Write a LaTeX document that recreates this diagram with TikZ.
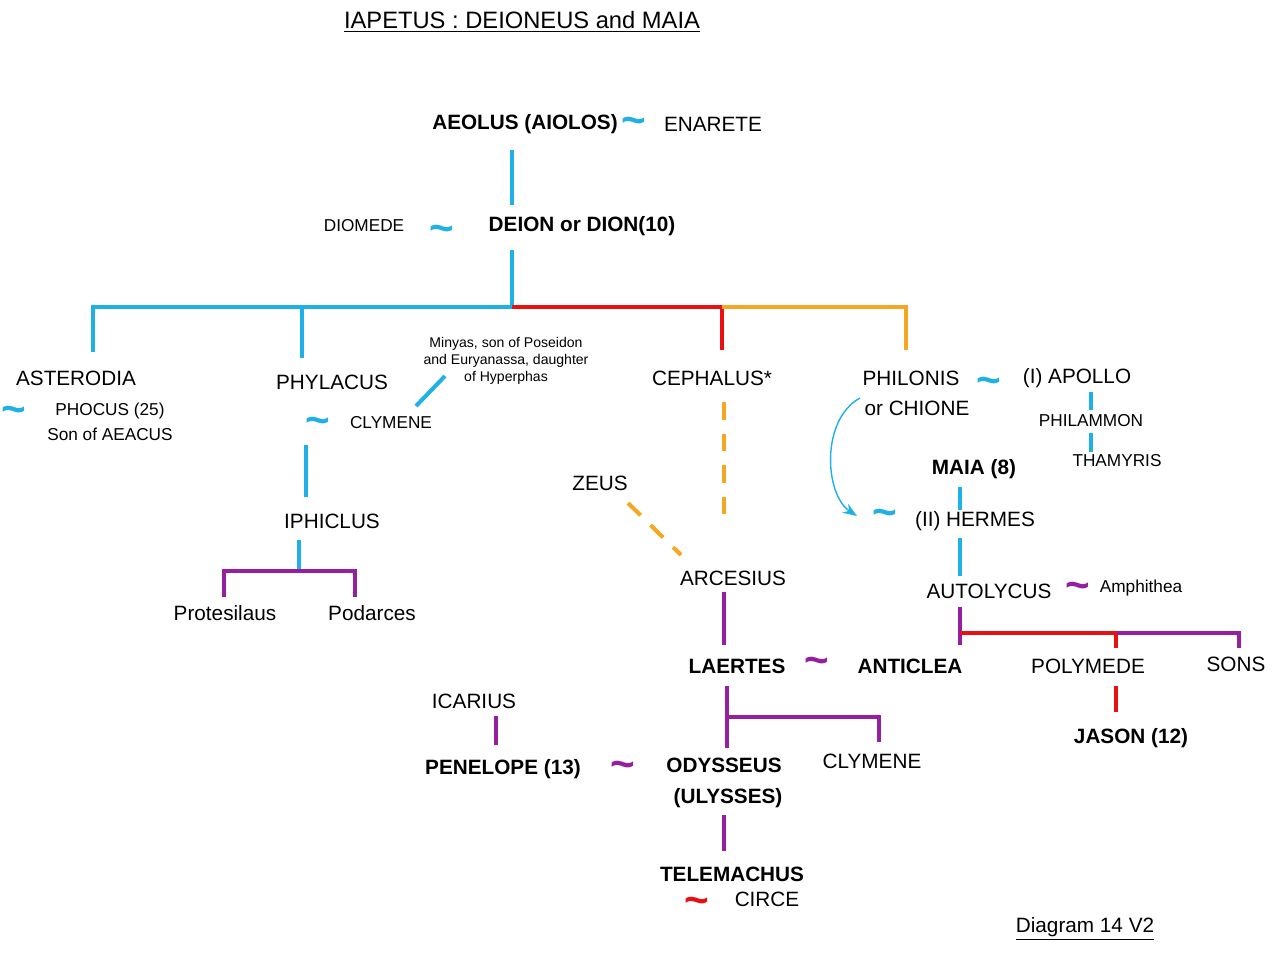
\documentclass[tikz,border=0pt]{standalone}
\usepackage{fontspec}
\setmainfont{Liberation Sans}
\usetikzlibrary{arrows.meta}
\definecolor{cy}{RGB}{30,176,230}
\definecolor{rd}{RGB}{232,16,16}
\definecolor{og}{RGB}{245,166,35}
\definecolor{pu}{RGB}{150,30,160}
\tikzset{
  nm/.style={font=\fontsize{11.8}{14}\selectfont, inner sep=1pt},
  bd/.style={font=\fontsize{11.8}{14}\selectfont\bfseries, inner sep=1pt},
  sm/.style={font=\fontsize{9.8}{12}\selectfont, inner sep=1pt},
  tn/.style={font=\fontsize{8}{9.5}\selectfont, inner sep=1pt, align=center},
  tld/.style={font=\fontsize{24}{24}\selectfont\bfseries, inner sep=0pt, text=#1},
  ln/.style={line width=2.3pt, draw=#1},
  dl/.style={line width=2.3pt, draw=#1, dash pattern=on 10pt off 8pt}
}
\begin{document}
\begin{tikzpicture}[x=0.02cm,y=-0.02cm]
\useasboundingbox (0,0) rectangle (1280,953);
% title and footer
\node[font=\fontsize{13.5}{16}\selectfont] (title) at (522,22) {\underline{IAPETUS : DEIONEUS and MAIA}};
\node[nm] (foot) at (1085,929) {\underline{Diagram 14 V2}};
% top generations
\node[bd] (aeolus) at (525,124) {AEOLUS (AIOLOS)};
\node[tld=cy] (t1) at (634,126) {\textasciitilde};
\node[nm] (enarete) at (713,124) {ENARETE};
\node[sm] (diomede) at (364,226) {DIOMEDE};
\node[tld=cy] (t2) at (442,234) {\textasciitilde};
\node[bd] (deion) at (582,226) {DEION or DION(10)};
\draw[ln=cy] (512,150) -- (512,205);
\draw[ln=cy] (512,250) -- (512,307);
\draw[ln=cy] (93,352) -- (93,307) -- (512,307);
\draw[ln=cy] (302,358) -- (302,307);
\draw[ln=rd] (512,307) -- (722,307) -- (722,350);
\draw[ln=og] (722,307) -- (906,307) -- (906,350);
% left branches
\node[nm] (asterodia) at (76,378) {ASTERODIA};
\node[tld=cy] (t3) at (14,415) {\textasciitilde};
\node[sm] (phocus) at (110,411) {PHOCUS (25)};
\node[sm] (son) at (110,434) {Son of AEACUS};
\node[nm] (phylacus) at (332,382) {PHYLACUS};
\node[tld=cy] (t4) at (318,426) {\textasciitilde};
\node[sm] (clymene1) at (391,423) {CLYMENE};
\node[tn] (minyas) at (506,361) {Minyas, son of Poseidon\\and Euryanassa, daughter\\of Hyperphas};
\draw[ln=cy] (445,376) -- (416,406);
\draw[ln=cy] (306,445) -- (306,497);
\node[nm] (iphiclus) at (332,521) {IPHICLUS};
\draw[ln=cy] (299,540) -- (299,572);
\draw[ln=pu] (224,597) -- (224,571) -- (355,571) -- (355,597);
\node[nm] (protesilaus) at (225,613) {Protesilaus};
\node[nm] (podarces) at (372,613) {Podarces};
% middle line
\node[nm] (cephalus) at (712,378) {CEPHALUS*};
\draw[dl=og] (724,402) -- (724,528);
\node[nm] (zeus) at (600,483) {ZEUS};
\draw[dl=og] (628,503) -- (681,555);
\node[nm] (arcesius) at (733,578) {ARCESIUS};
\draw[ln=pu] (724,592) -- (724,645);
\node[bd] (laertes) at (737,666) {LAERTES};
\node[tld=pu] (t5) at (817,666) {\textasciitilde};
\node[bd] (anticlea) at (910,666) {ANTICLEA};
\draw[ln=pu] (727,686) -- (727,748);
\draw[ln=pu] (727,717) -- (879,717) -- (879,742);
\node[nm] (clymene2) at (872,761) {CLYMENE};
\node[nm] (icarius) at (474,701) {ICARIUS};
\draw[ln=pu] (496,716) -- (496,745);
\node[bd] (penelope) at (503,769) {PENELOPE (13)};
\node[tld=pu] (t6) at (623,770) {\textasciitilde};
\node[bd] (odysseus) at (724,765) {ODYSSEUS};
\node[bd] (ulysses) at (728,798) {(ULYSSES)};
\draw[ln=pu] (724,815) -- (724,851);
\node[bd] (telemachus) at (732,874) {TELEMACHUS};
\node[tld=rd] (t7) at (697,906) {\textasciitilde};
\node[nm] (circe) at (767,899) {CIRCE};
% right branch
\node[nm] (philonis) at (911,378) {PHILONIS};
\node[nm] (chione) at (917,408) {or CHIONE};
\node[tld=cy] (t8) at (989,386) {\textasciitilde};
\node[nm] (apollo) at (1077,378) {(I) APOLLO};
\draw[ln=cy] (1091,392) -- (1091,410);
\node[sm] (philammon) at (1091,421) {PHILAMMON};
\draw[ln=cy] (1091,433) -- (1091,452);
\node[sm] (thamyris) at (1117,461) {THAMYRIS};
\draw[cy, line width=0.8pt, -{Stealth[length=8pt]}] (860,398) .. controls (820,420) and (825,495) .. (857,516);
\node[bd] (maia) at (974,469) {MAIA (8)};
\draw[ln=cy] (960,487) -- (960,510);
\node[tld=cy] (t9) at (885,518) {\textasciitilde};
\node[nm] (hermes) at (975,521) {(II) HERMES};
\draw[ln=cy] (960,538) -- (960,576);
\node[nm] (autolycus) at (989,591) {AUTOLYCUS};
\node[tld=pu] (t10) at (1078,591) {\textasciitilde};
\node[sm] (amphithea) at (1141,588) {Amphithea};
\draw[ln=pu] (960,607) -- (960,645);
\draw[ln=rd] (960,633) -- (1116,633);
\draw[ln=pu] (1116,633) -- (1239,633) -- (1239,648);
\draw[ln=rd] (1116,633) -- (1116,648);
\node[nm] (polymede) at (1088,666) {POLYMEDE};
\node[nm] (sons) at (1236,664) {SONS};
\draw[ln=rd] (1116,686) -- (1116,712);
\node[bd] (jason) at (1131,738) {JASON (12)};
\end{tikzpicture}
\end{document}
